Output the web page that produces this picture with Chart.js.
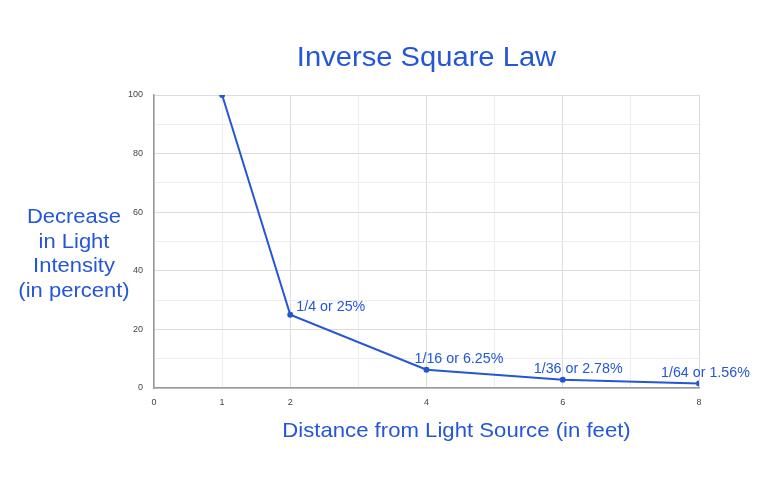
<!DOCTYPE html>
<html>
<head>
<meta charset="utf-8">
<script src="https://cdn.jsdelivr.net/npm/chart.js@4"></script>
<style>
  html, body { margin: 0; padding: 0; background: #fff; }
  #wrap { width: 768px; height: 481px; }
</style>
</head>
<body>
<div id="wrap"><canvas id="chart"></canvas></div>
<script>
// Data
const distances = [1, 2, 4, 6, 8];
const intensity = [100, 25, 6.25, 2.78, 1.56];
const pointLabels = ['', '1/4 or 25%', '1/16 or 6.25%', '1/36 or 2.78%', '1/64 or 1.56%'];
const xTickLabels = [0, 1, 2, 4, 6, 8];
const yTickLabels = [0, 20, 40, 60, 80, 100];

const BLUE = '#2456d6';
const FONT = '"Liberation Sans", Arial, sans-serif';

// draw text a bit wider than the font, like the reference
function drawText(ctx, text, x, y, size, sx, align) {
  ctx.save();
  ctx.font = size + 'px ' + FONT;
  ctx.textAlign = align;
  ctx.textBaseline = 'alphabetic';
  ctx.translate(x, y);
  ctx.scale(sx, 1);
  ctx.fillText(text, 0, 0);
  ctx.restore();
}

// Titles and point notes drawn straight on the canvas
const textPlugin = {
  id: 'texts',
  afterDraw(chart) {
    const { ctx, chartArea } = chart;
    const meta = chart.getDatasetMeta(0);
    ctx.save();
    ctx.fillStyle = BLUE;

    // main title
    drawText(ctx, 'Inverse Square Law', (chartArea.left + chartArea.right) / 2, 66, 27, 1.08, 'center');

    // y axis title, horizontal lines
    const yLines = ['Decrease', 'in Light', 'Intensity', '(in percent)'];
    yLines.forEach((t, i) => drawText(ctx, t, 74, 223 + i * 24.7, 20, 1.1, 'center'));

    // x axis title
    drawText(ctx, 'Distance from Light Source (in feet)', 456.5, 437, 21, 1.055, 'center');

    // point notes
    const shift = [[0, 0], [6, -4], [-12, -7], [-29, -7], [-38, -6]];
    meta.data.forEach((pt, i) => {
      if (!pointLabels[i]) return;
      drawText(ctx, pointLabels[i], pt.x + shift[i][0], pt.y + shift[i][1], 14, 1.02, 'left');
    });
    ctx.restore();
  }
};

new Chart(document.getElementById('chart'), {
  type: 'line',
  data: {
    datasets: [{
      data: distances.map((d, i) => ({ x: d, y: intensity[i] })),
      borderColor: BLUE,
      backgroundColor: BLUE,
      borderWidth: 2,
      pointRadius: 2,
      pointHoverRadius: 2,
      tension: 0
    }]
  },
  options: {
    responsive: true,
    maintainAspectRatio: false,
    animation: false,
    layout: { padding: { top: 95, right: 69, bottom: 0, left: 0 } },
    plugins: {
      legend: { display: false },
      tooltip: { enabled: false }
    },
    scales: {
      x: {
        type: 'linear',
        min: 0,
        max: 8,
        ticks: {
          stepSize: 1,
          padding: 9,
          color: '#444',
          font: { family: FONT, size: 9 },
          callback: v => xTickLabels.includes(v) ? String(v) : ''
        },
        grid: {
          drawTicks: false,
          color: c => (c.tick.value % 2 === 0 ? '#dcdcdc' : '#ededed')
        },
        border: { color: '#9a9a9a', width: 1.5 },
        afterFit: s => { s.height = 93; }
      },
      y: {
        min: 0,
        max: 100,
        ticks: {
          stepSize: 10,
          padding: 11,
          color: '#444',
          font: { family: FONT, size: 9 },
          callback: v => yTickLabels.includes(v) ? String(v) : ''
        },
        grid: {
          drawTicks: false,
          color: c => (c.tick.value % 20 === 0 ? '#dcdcdc' : '#ededed')
        },
        border: { color: '#9a9a9a', width: 1.5 },
        afterFit: s => { s.width = 154; }
      }
    }
  },
  plugins: [textPlugin]
});
</script>
</body>
</html>
